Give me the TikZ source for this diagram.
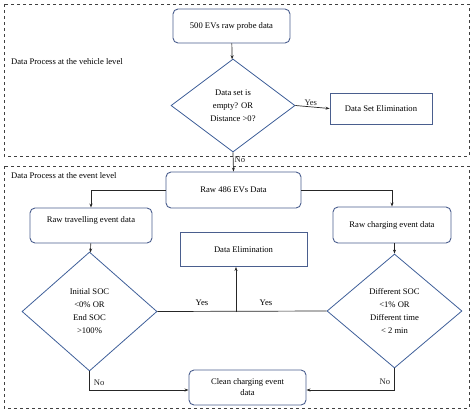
\documentclass[tikz,border=0pt]{standalone}
\usepackage{fontspec}
\setmainfont{Liberation Serif}
\usetikzlibrary{shapes.geometric,arrows.meta,positioning}
\definecolor{boxc}{HTML}{4A5E8E}
\definecolor{diac}{HTML}{3F5F99}
\tikzset{
  rbox/.style={draw=boxc, line width=0.9pt, rounded corners=5pt, align=center, font=\fontsize{8.6}{11}\selectfont},
  sbox/.style={draw=boxc, line width=0.9pt, align=center, font=\fontsize{8.6}{11}\selectfont},
  dia/.style={draw=diac, line width=0.8pt, shape=diamond, inner sep=0pt, align=center, font=\fontsize{8.6}{13}\selectfont},
  frame/.style={draw=black!75, dashed, line width=0.7pt},
  arr/.style={-{Stealth[length=4pt,width=3pt]}, line width=0.7pt, black!85},
  lbl/.style={font=\fontsize{8.6}{11}\selectfont, inner sep=1pt},
  ttl/.style={font=\fontsize{8.6}{11}\selectfont, anchor=west, inner sep=0pt}
}
\begin{document}
\begin{tikzpicture}[x=1pt,y=-1pt]
\useasboundingbox (0,0) rectangle (474,413);
% frames
\draw[frame] (4,4) rectangle (469,156);
\draw[frame] (4,166) rectangle (469,408);
\node[ttl] (t1) at (11,62) {Data Process at the vehicle level};
\node[ttl] (t2) at (11,176) {Data Process at the event level};
% top
\node[rbox, minimum width=117pt, minimum height=34pt] (src) at (231.5,26) {500 EVs raw probe data};
\node[dia, minimum width=124pt, minimum height=93pt] (d1) at (233,105.5) {Data set is\\empty? OR\\Distance >0?};
\node[sbox, minimum width=102pt, minimum height=31pt] (dse) at (381,108.5) {Data Set Elimination};
\draw[arr] (src) -- (d1);
\draw[arr] (d1.east) -- (dse.west) node[lbl, pos=0.45, above] {Yes};
% event level
\node[rbox, minimum width=135pt, minimum height=36pt] (raw) at (233.5,190) {Raw 486 EVs Data};
\draw[arr] (d1.south) -- (raw.north) node[lbl, pos=0.4, right] {No};
\node[rbox, minimum width=122pt, minimum height=35pt, text depth=12pt] (trav) at (91,225.5) {Raw travelling event data};
\node[rbox, minimum width=118pt, minimum height=36pt] (chg) at (392,225) {Raw charging event data};
\node[sbox, minimum width=127pt, minimum height=34pt] (del) at (243.5,249.5) {Data Elimination};
\node[dia, minimum width=135pt, minimum height=119pt] (d2) at (89.5,311.5) {Initial SOC\\<0\% OR\\End SOC\\>100\%};
\node[dia, minimum width=135pt, minimum height=114pt] (d3) at (394.5,311) {Different SOC\\<1\% OR\\Different time\\< 2 min};
\node[rbox, minimum width=117pt, minimum height=35pt] (clean) at (247.5,387.5) {Clean charging event\\data};
\coordinate (jn) at (236,312);
\draw[arr] (raw.west) -| (trav.north);
\draw[arr] (raw.east) -| (chg.north);
\draw[arr] (trav) -- (d2);
\draw[arr] (chg.south -| d3.north) -- (d3.north);
\draw[line width=0.7pt, black!85] (d2.east) -- (d3.west);
\draw[arr] (jn) -- (jn |- del.south);
\node[lbl] (y1) at (202,303) {Yes};
\node[lbl] (y2) at (266,303) {Yes};
\draw[arr] (d2.south) |- (clean.west |- 0,390) node[lbl, pos=0.3, right=3pt] {No};
\draw[arr] (d3.south) |- (clean.east |- 0,390) node[lbl, pos=0.3, left=3pt] {No};
\end{tikzpicture}
\end{document}
